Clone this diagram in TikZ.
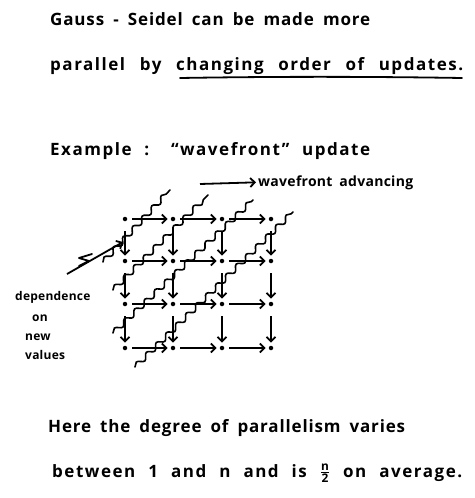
\documentclass[tikz,border=0pt]{standalone}
\usepackage{fontspec}
\usepackage{amsmath}
\setmainfont{Open Sans}[LetterSpace=9]
\newfontfamily\tightfont{Open Sans}[LetterSpace=2]
\newfontfamily\midfont{Open Sans}[LetterSpace=5]
\usetikzlibrary{arrows.meta,decorations.pathmorphing}
\begin{document}
\begin{tikzpicture}[x=1pt,y=-1pt,
  txt/.style={anchor=base west,inner sep=0pt,font=\fontsize{17}{19}\selectfont\bfseries},
  mtxt/.style={txt,font=\midfont\fontsize{17}{19}\selectfont\bfseries},
  stxt/.style={anchor=base west,inner sep=0pt,font=\tightfont\fontsize{14}{16}\selectfont\bfseries},
  lbl/.style={anchor=base west,inner sep=0pt,font=\tightfont\fontsize{12}{14}\selectfont\bfseries},
  dot/.style={circle,fill,inner sep=0pt,minimum size=4.5pt},
  arr/.style={-{Straight Barb[length=4.5pt,width=9pt]},line width=1.8pt},
  harr/.style={arr,shorten <=5pt,shorten >=3pt},
  varr/.style={arr,shorten <=10pt,shorten >=3pt},
  wave/.style={line width=1.6pt,line cap=round,decorate,decoration={snake,segment length=14pt,amplitude=2.6pt}},
  pen/.style={line width=1.8pt,line cap=round,line join=round},
]
\useasboundingbox (0,0) rectangle (474,498);

% text
\node[mtxt] (t1) at (50,25) {\makebox[320pt][s]{Gauss - Seidel can be made more}};
\node[txt] (t2) at (50,70) {\makebox[413pt][s]{parallel by changing order of updates.}};
\coordinate (u1) at (180,78);
\coordinate (u2) at (462,78);
\draw[pen] (u1) .. controls (300,76) and (400,77) .. (u2);
\node[txt] (t3) at (50,155) {\makebox[320pt][s]{Example : “wavefront” update}};
\node[stxt] (t4) at (258,186) {\makebox[155pt][s]{wavefront advancing}};
\coordinate (wa) at (200,184);
\draw[arr] (wa) -- ([xshift=-2pt]t4.west);
\node[mtxt] (t5) at (48,432) {\makebox[357pt][s]{Here the degree of parallelism varies}};
\node[txt] (t6) at (52,477) {\makebox[410pt][s]{between 1 and n and is $\frac{\text{n}}{\text{2}}$ on average.}};

% left labels
\node[lbl] (l1) at (15,300) {dependence};
\node[lbl] (l2) at (32,321) {on};
\node[lbl] (l3) at (25,340) {new};
\node[lbl] (l4) at (25,359) {values};

% grid
\foreach \i/\y in {1/219,2/261,3/304,4/348}
  \foreach \j/\x in {1/125,2/173,3/222,4/271}
    \node[dot] (d\i\j) at (\x,\y) {};

\foreach \i in {1,2,3,4}{
  \draw[harr] (d\i1) -- (d\i2);
  \draw[harr] (d\i2) -- (d\i3);
  \draw[harr] (d\i3) -- (d\i4);
}
\foreach \j in {1,2,3,4}{
  \draw[varr] (d1\j) -- (d2\j);
  \draw[varr] (d2\j) -- (d3\j);
  \draw[varr] (d3\j) -- (d4\j);
}

% wavefronts
\coordinate (w1a) at (103,262); \coordinate (w1b) at (170,190);
\coordinate (w2a) at (113,290); \coordinate (w2b) at (208,195);
\coordinate (w3a) at (113,333); \coordinate (w3b) at (253,200);
\coordinate (w4a) at (135,367); \coordinate (w4b) at (293,212);
\draw[wave] (w1a) -- (w1b);
\draw[wave] (w2a) -- (w2b);
\draw[wave] (w3a) -- (w3b);
\draw[wave] (w4a) -- (w4b);

% dependence arrow
\coordinate (dp0) at (67,274);
\coordinate (dp1) at (123,242);
\draw[arr] (dp0) -- (dp1);
\coordinate (z1) at (92,254);
\coordinate (z2) at (79,258);
\coordinate (z3) at (89,261);
\coordinate (z4) at (79,266);
\draw[pen] (z1) -- (z2) -- (z3) -- (z4);
\end{tikzpicture}
\end{document}
